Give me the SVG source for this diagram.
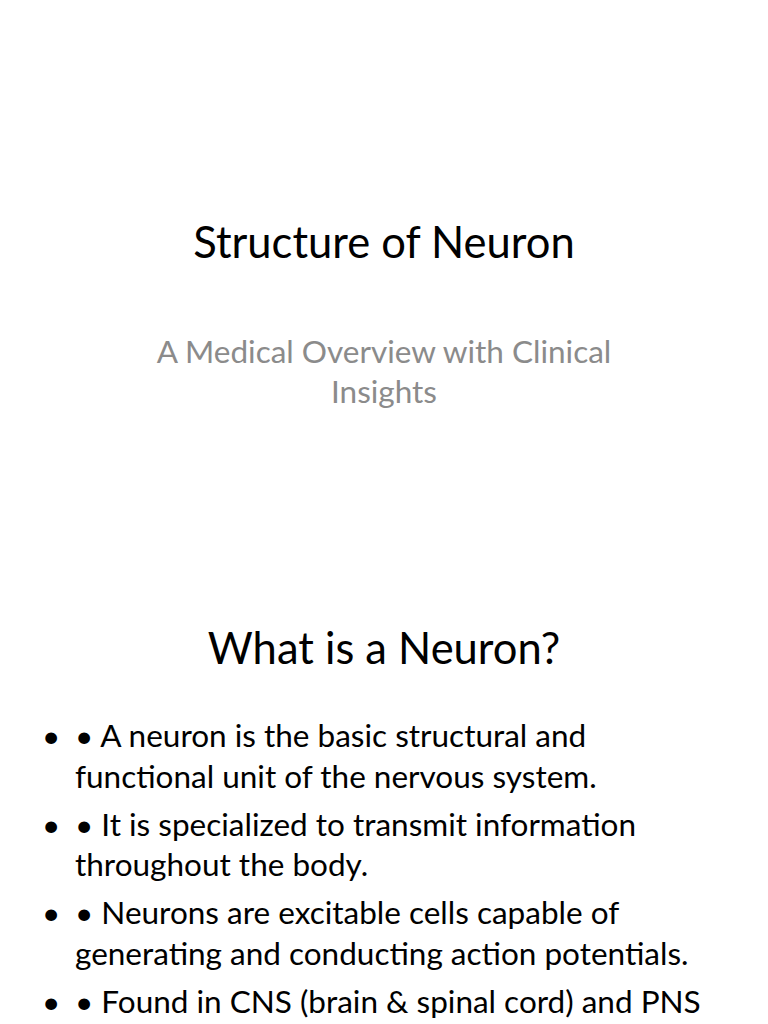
<svg xmlns="http://www.w3.org/2000/svg" width="768" height="1024" viewBox="0 0 768 1024">
<style>
text{font-family:Lato,"Open Sans",sans-serif;fill:#000}
.t{font-size:43.5px;text-anchor:middle}
.s{font-size:31.5px;text-anchor:middle;fill:#8b8b8b}
.b{font-size:31.5px}
</style>
<rect width="768" height="1024" fill="#fff"/>
<text class="t" x="384" y="258">Structure of Neuron</text>
<text class="s" x="384" y="363">A Medical Overview with Clinical</text>
<text class="s" x="384" y="403">Insights</text>
<text class="t" x="384" y="664">What is a Neuron?</text>
<g>
<text class="b" x="42" y="747">•</text><text class="b" x="75" y="747">• A neuron is the basic structural and</text>
<text class="b" x="75" y="788">functional unit of the nervous system.</text>
<text class="b" x="42" y="836">•</text><text class="b" x="75" y="836">• It is specialized to transmit information</text>
<text class="b" x="75" y="876">throughout the body.</text>
<text class="b" x="42" y="924">•</text><text class="b" x="75" y="924">• Neurons are excitable cells capable of</text>
<text class="b" x="75" y="965">generating and conducting action potentials.</text>
<text class="b" x="42" y="1013">•</text><text class="b" x="75" y="1013">• Found in CNS (brain &amp; spinal cord) and PNS</text>
</g>
</svg>
